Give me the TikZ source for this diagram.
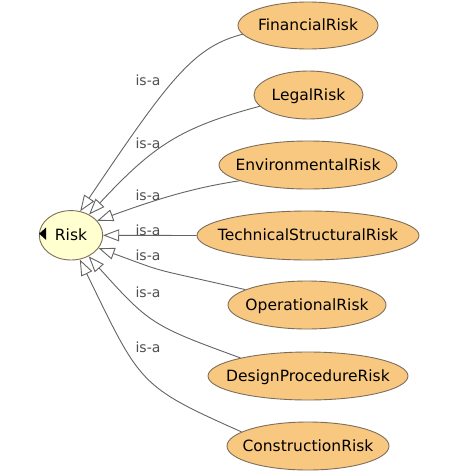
\documentclass[tikz,border=0pt]{standalone}
\usepackage{fontspec}
\setmainfont{DejaVu Sans}
\usetikzlibrary{shapes.geometric,arrows.meta,backgrounds}
\definecolor{cls}{RGB}{249,200,128}
\definecolor{clsborder}{RGB}{125,110,90}
\definecolor{rootfill}{RGB}{255,255,208}
\definecolor{edgegray}{RGB}{100,100,100}
\definecolor{labelgray}{RGB}{80,80,80}
\begin{document}
\begin{tikzpicture}[x=1pt,y=1pt,
  cnode/.style={ellipse,draw=clsborder,line width=0.9pt,fill=cls,inner sep=0pt,
    minimum height=48pt,text height=10pt,text depth=0pt,
    font=\fontsize{15.5}{18}\selectfont},
  rootnode/.style={ellipse,draw=clsborder,line width=0.9pt,fill=rootfill,inner sep=0pt,
    minimum width=63.4pt,minimum height=49.4pt,text height=10pt,text depth=0pt,
    font=\fontsize{15.5}{18}\selectfont},
  isa/.style={draw=edgegray,line width=0.9pt,
    -{Triangle[length=16pt,width=12pt,fill=white,line width=0.9pt]}},
  isalabel/.style={text=labelgray,inner sep=0pt,text height=10pt,text depth=0pt,
    font=\fontsize{14}{16}\selectfont}]
\useasboundingbox (0,0) rectangle (474,-474);

\node[rootnode] (risk) at (71,-235.3) {\makebox[0pt]{Risk}};
\node[cnode,minimum width=140pt,minimum height=47pt] (fin) at (308,-25.5) {\makebox[0pt]{FinancialRisk}};
\node[cnode,minimum width=109pt] (leg) at (308.5,-95) {\makebox[0pt]{LegalRisk}};
\node[cnode,minimum width=178pt] (env) at (308,-165) {\makebox[0pt]{EnvironmentalRisk}};
\node[cnode,minimum width=222pt,minimum height=49pt] (tech) at (308,-235.5) {\makebox[0pt]{TechnicalStructuralRisk}};
\node[cnode,minimum width=158pt] (op) at (307,-305) {\makebox[0pt]{OperationalRisk}};
\node[cnode,minimum width=200pt] (des) at (308,-376) {\makebox[0pt]{DesignProcedureRisk}};
\node[cnode,minimum width=162pt] (con) at (308,-446) {\makebox[0pt]{ConstructionRisk}};

\fill[black] ([xshift=0.3pt,yshift=1.6pt]risk.west) -- ++(7,6.3) -- ++(0,-12.6) -- cycle;

\begin{scope}[on background layer]
\fill[white] (0,0) rectangle (474,-474);
\draw[isa] (fin.center) .. controls +(185:105) and +(56:210) .. (risk.69);
\draw[isa] (leg.193) .. controls +(195:82) and +(47:95) .. (risk.49);
\draw[isa] (env.193) .. controls +(188.5:45) and +(20:66) .. (risk.29);
\draw[isa] (tech.west) -- (risk.east);
\draw[isa] (op.166) .. controls +(167:105) and +(-20:78) .. (risk.-25);
\draw[isa] (des.165) .. controls +(160:94) and +(-48:91) .. (risk.-50);
\draw[isa] (con.168) .. controls +(156:113) and +(-64:139) .. (risk.-70);
\end{scope}

\node[isalabel] (l1) at (148,-80.5) {is-a};
\node[isalabel] (l2) at (148,-143.3) {is-a};
\node[isalabel] (l3) at (148,-195) {is-a};
\node[isalabel] (l4) at (148,-230) {is-a};
\node[isalabel] (l5) at (148,-255.3) {is-a};
\node[isalabel] (l6) at (148,-292) {is-a};
\node[isalabel] (l7) at (148,-347) {is-a};
\end{tikzpicture}
\end{document}
